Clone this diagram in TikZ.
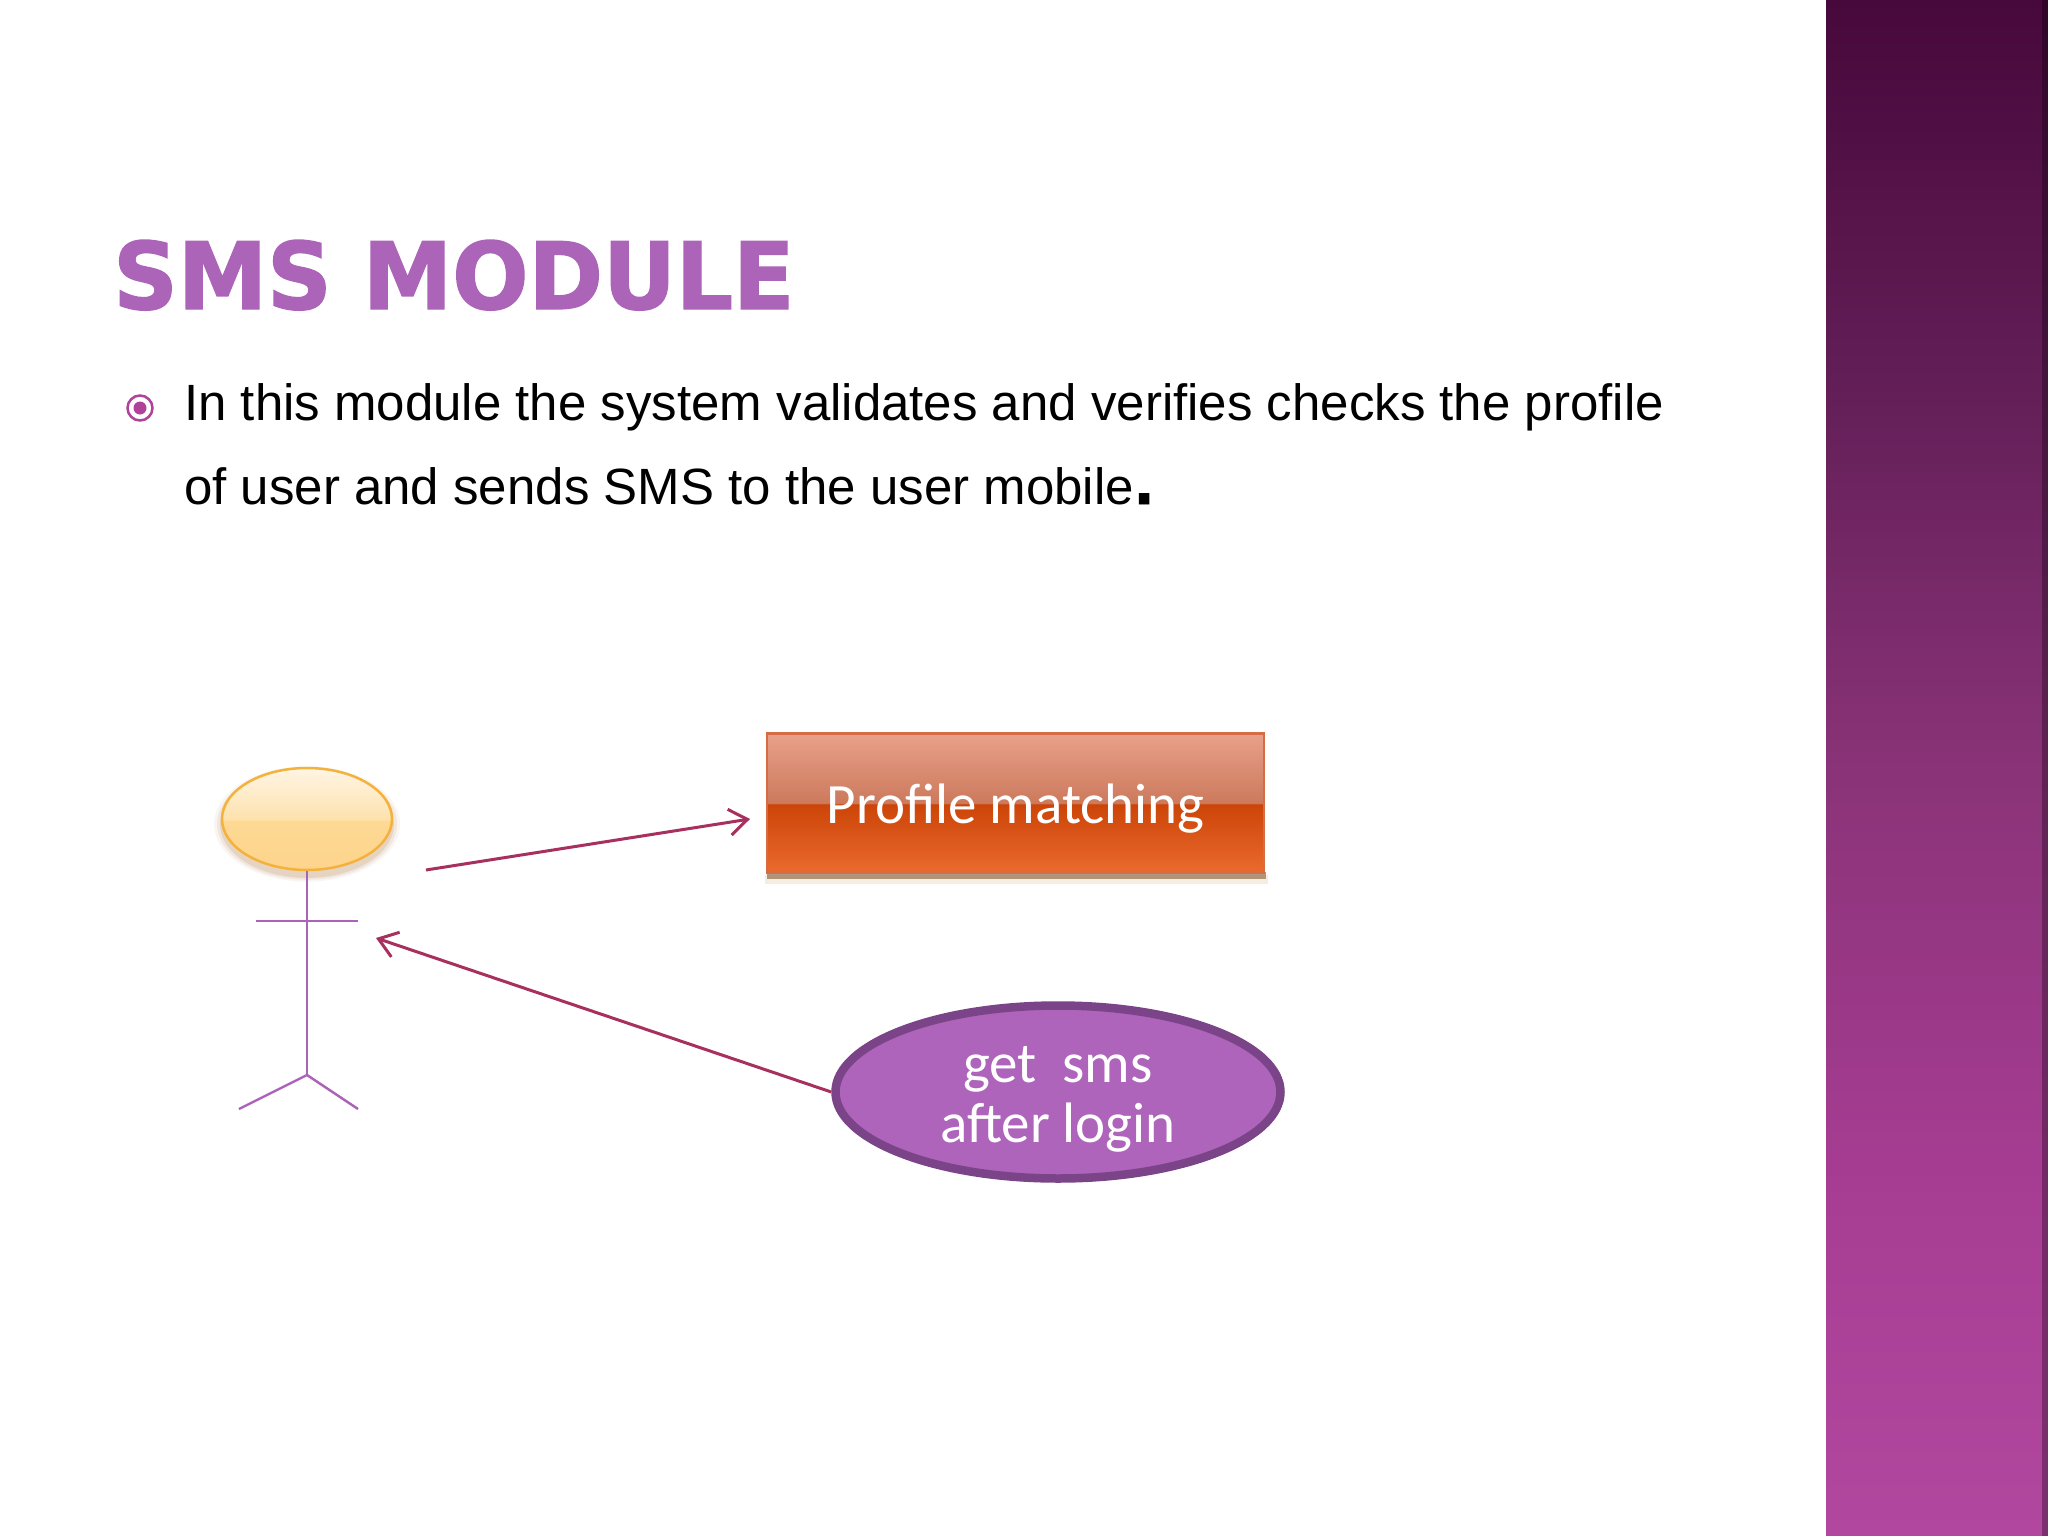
\documentclass[tikz,border=0pt]{standalone}
\usepackage{fontspec}
\setmainfont{Liberation Sans}
\newfontfamily\titlefont{DejaVu Sans}[BoldFont={DejaVu Sans Bold},BoldFeatures={FakeStretch=0.965,FakeBold=1.5}]
\newfontfamily\shapefont{Carlito}
\usetikzlibrary{shapes.geometric,arrows.meta}
\definecolor{titlepurple}{HTML}{AC64B8}
\definecolor{arrowred}{HTML}{A8305F}
\definecolor{stick}{HTML}{AB62B8}
\definecolor{ellfill}{HTML}{AD64BA}
\definecolor{elldraw}{HTML}{7C4488}
\definecolor{bullet}{HTML}{B0429C}
\definecolor{barA}{HTML}{B2479F}
\definecolor{barB}{HTML}{A83D94}
\definecolor{barC}{HTML}{8A3378}
\definecolor{barD}{HTML}{641F58}
\definecolor{barE}{HTML}{47083B}
\definecolor{boxA}{HTML}{EA6A2E}
\definecolor{boxB}{HTML}{CC4408}
\definecolor{boxC}{HTML}{CC7A5C}
\definecolor{boxD}{HTML}{E9A08A}
\definecolor{headA}{HTML}{FDD48C}
\definecolor{headB}{HTML}{FDD993}
\definecolor{headC}{HTML}{FEE2AE}
\definecolor{headD}{HTML}{FFF5E4}
\pgfdeclareverticalshading{barshade}{100bp}{
 color(0bp)=(barA);
 color(25bp)=(barA);
 color(36bp)=(barB);
 color(50bp)=(barC);
 color(62bp)=(barD);
 color(75bp)=(barE);
 color(100bp)=(barE)}
\pgfdeclareverticalshading{boxshade}{100bp}{
 color(0bp)=(boxA);
 color(25bp)=(boxA);
 color(49.5bp)=(boxB);
 color(50bp)=(boxC);
 color(75bp)=(boxD);
 color(100bp)=(boxD)}
\pgfdeclareverticalshading{headshade}{100bp}{
 color(0bp)=(headA);
 color(25bp)=(headA);
 color(49bp)=(headB);
 color(50bp)=(headC);
 color(75bp)=(headD);
 color(100bp)=(headD)}
\tikzset{
 flow/.style={draw=arrowred,line width=3pt,-{Straight Barb[length=18pt,width=26pt,line width=3pt]}},
 stickline/.style={draw=stick,line width=2.4pt},
 shapetext/.style={font=\shapefont\fontsize{57}{60}\selectfont,text=white,align=center}
}
\begin{document}
\begin{tikzpicture}[x=1pt,y=-1pt]
\useasboundingbox (0,0) rectangle (2048,1536);
\fill[white] (0,0) rectangle (2048,1536);
% sidebar
\shade[shading=barshade] (1826,0) rectangle (2048,1536);
\fill[black,opacity=.3] (2042,0) rectangle (2048,1536);
% title
\node[anchor=base west,inner sep=0pt,font=\titlefont\bfseries\fontsize{93}{100}\selectfont,text=titlepurple] (title) at (113,309) {SMS MODULE};
% bullet
\node[circle,draw=bullet,line width=2.5pt,minimum size=25pt,inner sep=0pt,fill=white] (ring) at (140,408) {};
\node[circle,fill=bullet,minimum size=13pt,inner sep=0pt] (dot) at (ring.center) {};
% body
\node[anchor=base west,inner sep=0pt,font=\fontsize{51}{83.3}\selectfont,align=left] (body) at (184,504) {In this module the system validates and verifies checks the profile\\of user and sends SMS to the user mobile{\titlefont\bfseries\fontsize{56}{83.3}\selectfont.}};
% actor
\foreach \r/\o in {93/.05,90/.08,87/.12}
 \fill[orange!60!black,opacity=\o] (307,824) ellipse ({\r pt} and {\r*0.62 pt});
\node[ellipse,draw={rgb,255:red,244;green,178;blue,60},line width=2.5pt,shading=headshade,minimum width=170pt,minimum height=102pt,inner sep=0pt] (head) at (307,819) {};
\coordinate (crotch) at (307,1075);
\coordinate (armL) at (256,921);
\coordinate (armR) at (358,921);
\coordinate (legL) at (239,1109);
\coordinate (legR) at (358,1109);
\draw[stickline] (head.south) -- (crotch);
\draw[stickline] (armL) -- (armR);
\draw[stickline] (legL) -- (crotch) -- (legR);
% box
\fill[black!35!brown,opacity=.6] (767,872) rectangle (1266,879);
\fill[brown,opacity=.15] (765,875) rectangle (1268,884);
\node[rectangle,draw={rgb,255:red,214;green,108;blue,68},line width=2.5pt,shading=boxshade,minimum width=497pt,minimum height=139pt,inner sep=0pt,shapetext] (box) at (1015.5,803) {\raisebox{-5.5pt}[\height][\depth]{Profile matching}};
% ellipse
\node[ellipse,draw=elldraw,line width=8.5pt,fill=ellfill,minimum width=445pt,minimum height=173pt,inner sep=0pt,shapetext] (sms) at (1058,1092) {\raisebox{-8.5pt}[\height][\depth]{\begin{tabular}{@{}c@{}}get\ \ sms\\after login\end{tabular}}};
% arrows
\coordinate (a1s) at (426,870);
\coordinate (a1e) at (750,819);
\coordinate (a2e) at (376,938);
\draw[flow] (a1s) -- (a1e);
\draw[flow] (sms.west) -- (a2e);
\end{tikzpicture}
\end{document}
